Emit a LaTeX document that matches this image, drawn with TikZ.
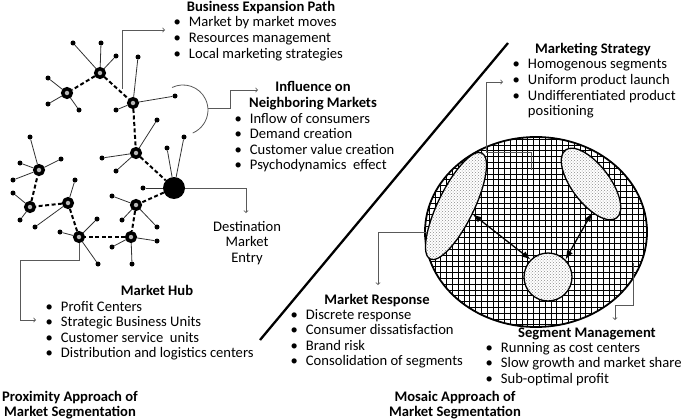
\documentclass[tikz,border=0pt]{standalone}
\usepackage{fontspec}
\setmainfont{Carlito}
\usetikzlibrary{patterns,shapes.geometric,arrows.meta}

\newcommand{\basefont}{\fontsize{14.6}{15.6}\selectfont}
\newcommand{\itemlist}[1]{\begin{tabular}[t]{@{}l@{\hspace{8pt}}l@{}}#1\end{tabular}}
\newcommand{\stack}[1]{\begin{tabular}[t]{@{}c@{}}#1\end{tabular}}

\tikzset{
    hub/.style={circle, draw=black, line width=3.5pt, fill=gray!55, minimum size=8.5pt, inner sep=0pt},
    bighub/.style={circle, fill=black, minimum size=22pt, inner sep=0pt},
    leaf/.style={circle, fill=black, minimum size=5pt, inner sep=0pt},
    spoke/.style={draw=black!80, line width=0.8pt},
    hublink/.style={line width=2pt, dash pattern=on 4pt off 2.5pt},
    link/.style={draw=black!65, line width=0.8pt, -to},
    title/.style={font=\basefont\bfseries, anchor=base, inner sep=0pt},
    plain/.style={anchor=base, inner sep=0pt},
    bullets/.style={anchor=base west, inner sep=0pt},
    segment/.style={draw=black, line width=1.3pt, preaction={fill=white}, pattern=crosshatch dots, pattern color=black!45},
    twoway/.style={draw=black, fill=black, line width=1.3pt,
        arrows={Latex[length=9pt,width=6.5pt,fill=black]-Latex[length=9pt,width=6.5pt,fill=black]}},
}

\begin{document}
\begin{tikzpicture}[x=1pt, y=-1pt, every node/.style={font=\basefont}]
    \useasboundingbox (0,0) rectangle (685,420);

    % Hubs of the proximity network
    \node[hub] (A) at (100,73) {};
    \node[hub] (B) at (67,93) {};
    \node[hub] (C) at (133,103) {};
    \node[hub] (D) at (136,153) {};
    \node[bighub] (E) at (174,188) {};
    \node[hub] (F) at (136,205) {};
    \node[hub] (G) at (131,237) {};
    \node[hub] (H) at (79,237) {};
    \node[hub] (I) at (68,203) {};
    \node[hub] (J) at (30,207) {};
    \node[hub] (K) at (39,170) {};

    % Dashed paths from hub to hub
    \foreach \a/\b in {A/B, A/C, C/D, D/E, E/F, F/G, G/H, H/I, I/J, J/K}
        \draw[hublink] (\a) -- (\b);

    % Leaves round every hub
    \foreach \h/\x/\y [count=\i] in {A/73/43, A/101/43, A/116/56,
            B/48/78, B/48/104, B/79/110,
            C/138/57, C/175/96, C/116/110,
            D/157/120, D/102/158, D/116/171,
            E/167/148, E/184/137, E/143/188,
            F/112/196, F/122/220, F/157/227,
            G/157/241, G/112/247, G/132/264,
            H/60/232, H/97/219, H/98/264,
            I/75/180, I/35/227,
            J/13/193, J/20/220,
            K/30/137, K/61/159, K/13/180, K/20/163} {
        \node[leaf] (leaf\i) at (\x,\y) {};
        \draw[spoke] (\h) -- (leaf\i);
    }

    % Arc of influence round the destination market
    \draw[black!65, line width=0.8pt] (172,87.5) arc[start angle=-116, end angle=67, radius=25];

    % Connectors of the proximity side
    \coordinate (bepFoot) at (122,89);
    \coordinate (bepTip) at (165,30);
    \draw[link] (bepFoot) |- (bepTip);

    \coordinate (arcRight) at (208,108);
    \coordinate (arcBend) at (230,108);
    \coordinate (arcTip) at (258,90);
    \draw[link] (arcRight) -- (arcBend) |- (arcTip);

    \coordinate (destTip) at (246,213);
    \draw[link] (E) -| (destTip);

    \coordinate (hubBend) at (20,260);
    \coordinate (hubTip) at (36,320);
    \draw[link] (H.south) |- (hubBend) |- (hubTip);

    % Dividing line
    \coordinate (divLow) at (260,340);
    \coordinate (divHigh) at (508,43);
    \draw[line width=2.3pt] (divLow) -- (divHigh);

    % Mosaic market with its grid
    \begin{scope}
        \clip (536,232) ellipse [x radius=111, y radius=95];
        \draw[line width=0.8pt, step=5.8pt] (420,330) grid (650,130);
    \end{scope}
    \draw[line width=1.8pt] (536,232) ellipse [x radius=111, y radius=95];

    % Segments inside the mosaic
    \node[segment, ellipse, rotate=64, minimum width=118pt, minimum height=36pt] (leftSeg) at (456,206) {};
    \node[segment, ellipse, rotate=-53, minimum width=85pt, minimum height=38pt] (rightSeg) at (591,184) {};
    \node[segment, circle, minimum size=48pt] (midSeg) at (548,277) {};

    % Two-way links between the segments
    \draw[twoway] (leftSeg.south) -- (midSeg.135);
    \draw[twoway] (rightSeg.-35) -- (midSeg.45);

    % Connectors of the mosaic side
    \coordinate (msFoot) at (531,170);
    \coordinate (msBend) at (486,152);
    \coordinate (msTip) at (503,82);
    \draw[link] (msFoot) |- (msBend) |- (msTip);

    \coordinate (mrFoot) at (427,232);
    \coordinate (mrTip) at (378,285);
    \draw[link] (mrFoot) -| (mrTip);

    \coordinate (smFoot) at (633,263);
    \coordinate (smBend) at (615,305);
    \coordinate (smTip) at (615,320);
    \draw[link] (smFoot) |- (smBend) -- (smTip);

    % Texts of the proximity side
    \node[title] (bepTitle) at (261,12) {Business Expansion Path};
    \node[bullets] (bepList) at (173.5,27) {\itemlist{\textbullet & Market by market moves\\
        \textbullet & Resources management\\
        \textbullet & Local marketing strategies}};

    \node[title] (inflTitle) at (313,92) {\stack{Influence on\\Neighboring Markets}};
    \node[bullets] (inflList) at (234.5,123) {\itemlist{\textbullet & Inflow of consumers\\
        \textbullet & Demand creation\\
        \textbullet & Customer value creation\\
        \textbullet & Psychodynamics~ effect}};

    \node[plain] (destText) at (247,231) {\stack{Destination\\Market\\Entry}};

    \node[title] (hubTitle) at (157,295) {Market Hub};
    \node[bullets] (hubList) at (45.5,311) {\itemlist{\textbullet & Profit Centers\\
        \textbullet & Strategic Business Units\\
        \textbullet & Customer service~ units\\
        \textbullet & Distribution and logistics centers}};

    \node[title] (proxTitle) at (70,401) {\stack{Proximity Approach of\\Market Segmentation}};

    % Texts of the mosaic side
    \node[title] (msTitle) at (593,54) {Marketing Strategy};
    \node[bullets] (msList) at (512.5,69) {\itemlist{\textbullet & Homogenous segments\\
        \textbullet & Uniform product launch\\
        \textbullet & Undifferentiated product\\
        & positioning}};

    \node[title] (mrTitle) at (377,304) {Market Response};
    \node[bullets] (mrList) at (290.5,319) {\itemlist{\textbullet & Discrete response\\
        \textbullet & Consumer dissatisfaction\\
        \textbullet & Brand risk\\
        \textbullet & Consolidation of segments}};

    \node[title] (smTitle) at (587,337) {Segment Management};
    \node[bullets] (smList) at (485.5,352) {\itemlist{\textbullet & Running as cost centers\\
        \textbullet & Slow growth and market share\\
        \textbullet & Sub-optimal profit}};

    \node[title] (mosTitle) at (455,401) {\stack{Mosaic Approach of\\Market Segmentation}};
\end{tikzpicture}
\end{document}
